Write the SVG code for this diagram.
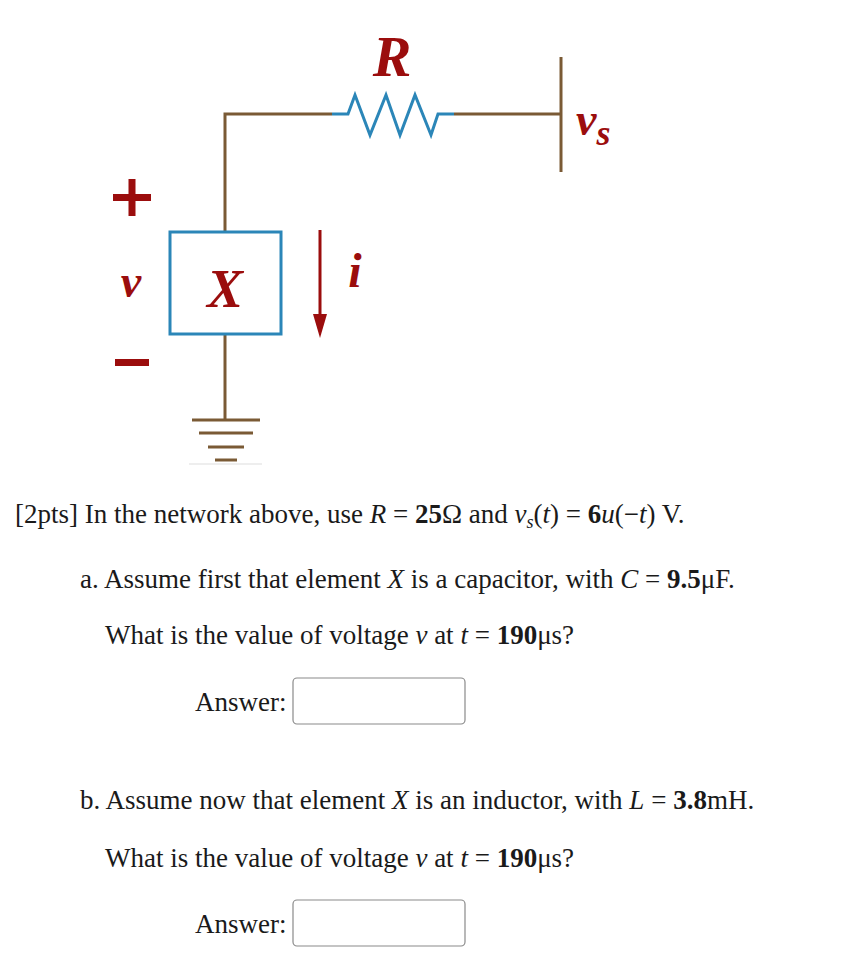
<svg xmlns="http://www.w3.org/2000/svg" width="845" height="975" viewBox="0 0 845 975">
<style>
.w{stroke:#7a5a35;stroke-width:3;fill:none}
.b{stroke:#2b86b8;stroke-width:3;fill:none}
.lab{font-family:"Liberation Serif",serif;font-weight:bold;font-style:italic;fill:#9b0d0d}
.t{font-family:"Liberation Serif","Times New Roman",serif;font-size:27px;fill:#1a1a1a}
.bx{fill:#fff;stroke:#8a8a8a;stroke-width:1.2}
</style>
<g id="connectors">
<polyline class="w" points="225,232 225,114 332,114"/>
<line class="w" x1="454" y1="114" x2="561" y2="114"/>
<line class="w" x1="225" y1="334" x2="225" y2="420"/>
</g>
<g id="resistor"><polyline class="b" points="332,114 348,114 355,95 370,135 386,95 400,135 415,95 431,135 438,114 454,114"/>
<text class="lab" x="392" y="76" font-size="58" text-anchor="middle">R</text></g>
<g id="source"><line class="w" x1="561" y1="57" x2="561" y2="172"/>
<text class="lab" x="576" y="135" font-size="46">v<tspan font-size="36" dy="10">s</tspan></text></g>
<g id="X"><rect class="b" x="170" y="232" width="111" height="102"/>
<text class="lab" x="225" y="307" font-size="54" text-anchor="middle">X</text></g>
<g id="polarity" fill="#9b0d0d">
<rect x="113" y="194" width="38" height="7"/><rect x="128.5" y="179" width="7" height="37"/>
<text class="lab" x="131" y="297" font-size="46" text-anchor="middle">v</text>
<rect x="115" y="359" width="34" height="7"/>
</g>
<g id="current"><line x1="320" y1="230" x2="320" y2="318" stroke="#9b0d0d" stroke-width="3"/>
<polygon points="313,314 327,314 320,338" fill="#9b0d0d"/>
<text class="lab" x="355" y="287" font-size="48" text-anchor="middle">i</text></g>
<g id="ground" stroke="#7a5a35" stroke-width="3">
<line x1="192" y1="420" x2="260" y2="420"/><line x1="199" y1="433" x2="253" y2="433"/>
<line x1="208" y1="447" x2="244" y2="447"/><line x1="215" y1="460" x2="237" y2="460"/>
<line x1="189" y1="464" x2="262" y2="464" stroke="#ddd" stroke-width="1"/>
</g>
<g id="text">
<text class="t" x="15" y="523">[2pts] In the network above, use <tspan font-style="italic">R</tspan> = <tspan font-weight="bold">25</tspan>Ω and <tspan font-style="italic">v</tspan><tspan font-style="italic" font-size="18" dy="5">s</tspan><tspan dy="-5">(</tspan><tspan font-style="italic">t</tspan>) = <tspan font-weight="bold">6</tspan><tspan font-style="italic">u</tspan>(−<tspan font-style="italic">t</tspan>) V.</text>
<text class="t" x="80" y="588">a. Assume first that element <tspan font-style="italic">X</tspan> is a capacitor, with <tspan font-style="italic">C</tspan> = <tspan font-weight="bold">9.5</tspan>μF.</text>
<text class="t" x="105" y="644">What is the value of voltage <tspan font-style="italic">v</tspan> at <tspan font-style="italic">t</tspan> = <tspan font-weight="bold">190</tspan>μs?</text>
<text class="t" x="195" y="711">Answer:</text>
<rect class="bx" x="293" y="678" width="172" height="46" rx="4"/>
<text class="t" x="80" y="809">b. Assume now that element <tspan font-style="italic">X</tspan> is an inductor, with <tspan font-style="italic">L</tspan> = <tspan font-weight="bold">3.8</tspan>mH.</text>
<text class="t" x="105" y="867">What is the value of voltage <tspan font-style="italic">v</tspan> at <tspan font-style="italic">t</tspan> = <tspan font-weight="bold">190</tspan>μs?</text>
<text class="t" x="195" y="933">Answer:</text>
<rect class="bx" x="293" y="900" width="172" height="46" rx="4"/>
</g>
</svg>
